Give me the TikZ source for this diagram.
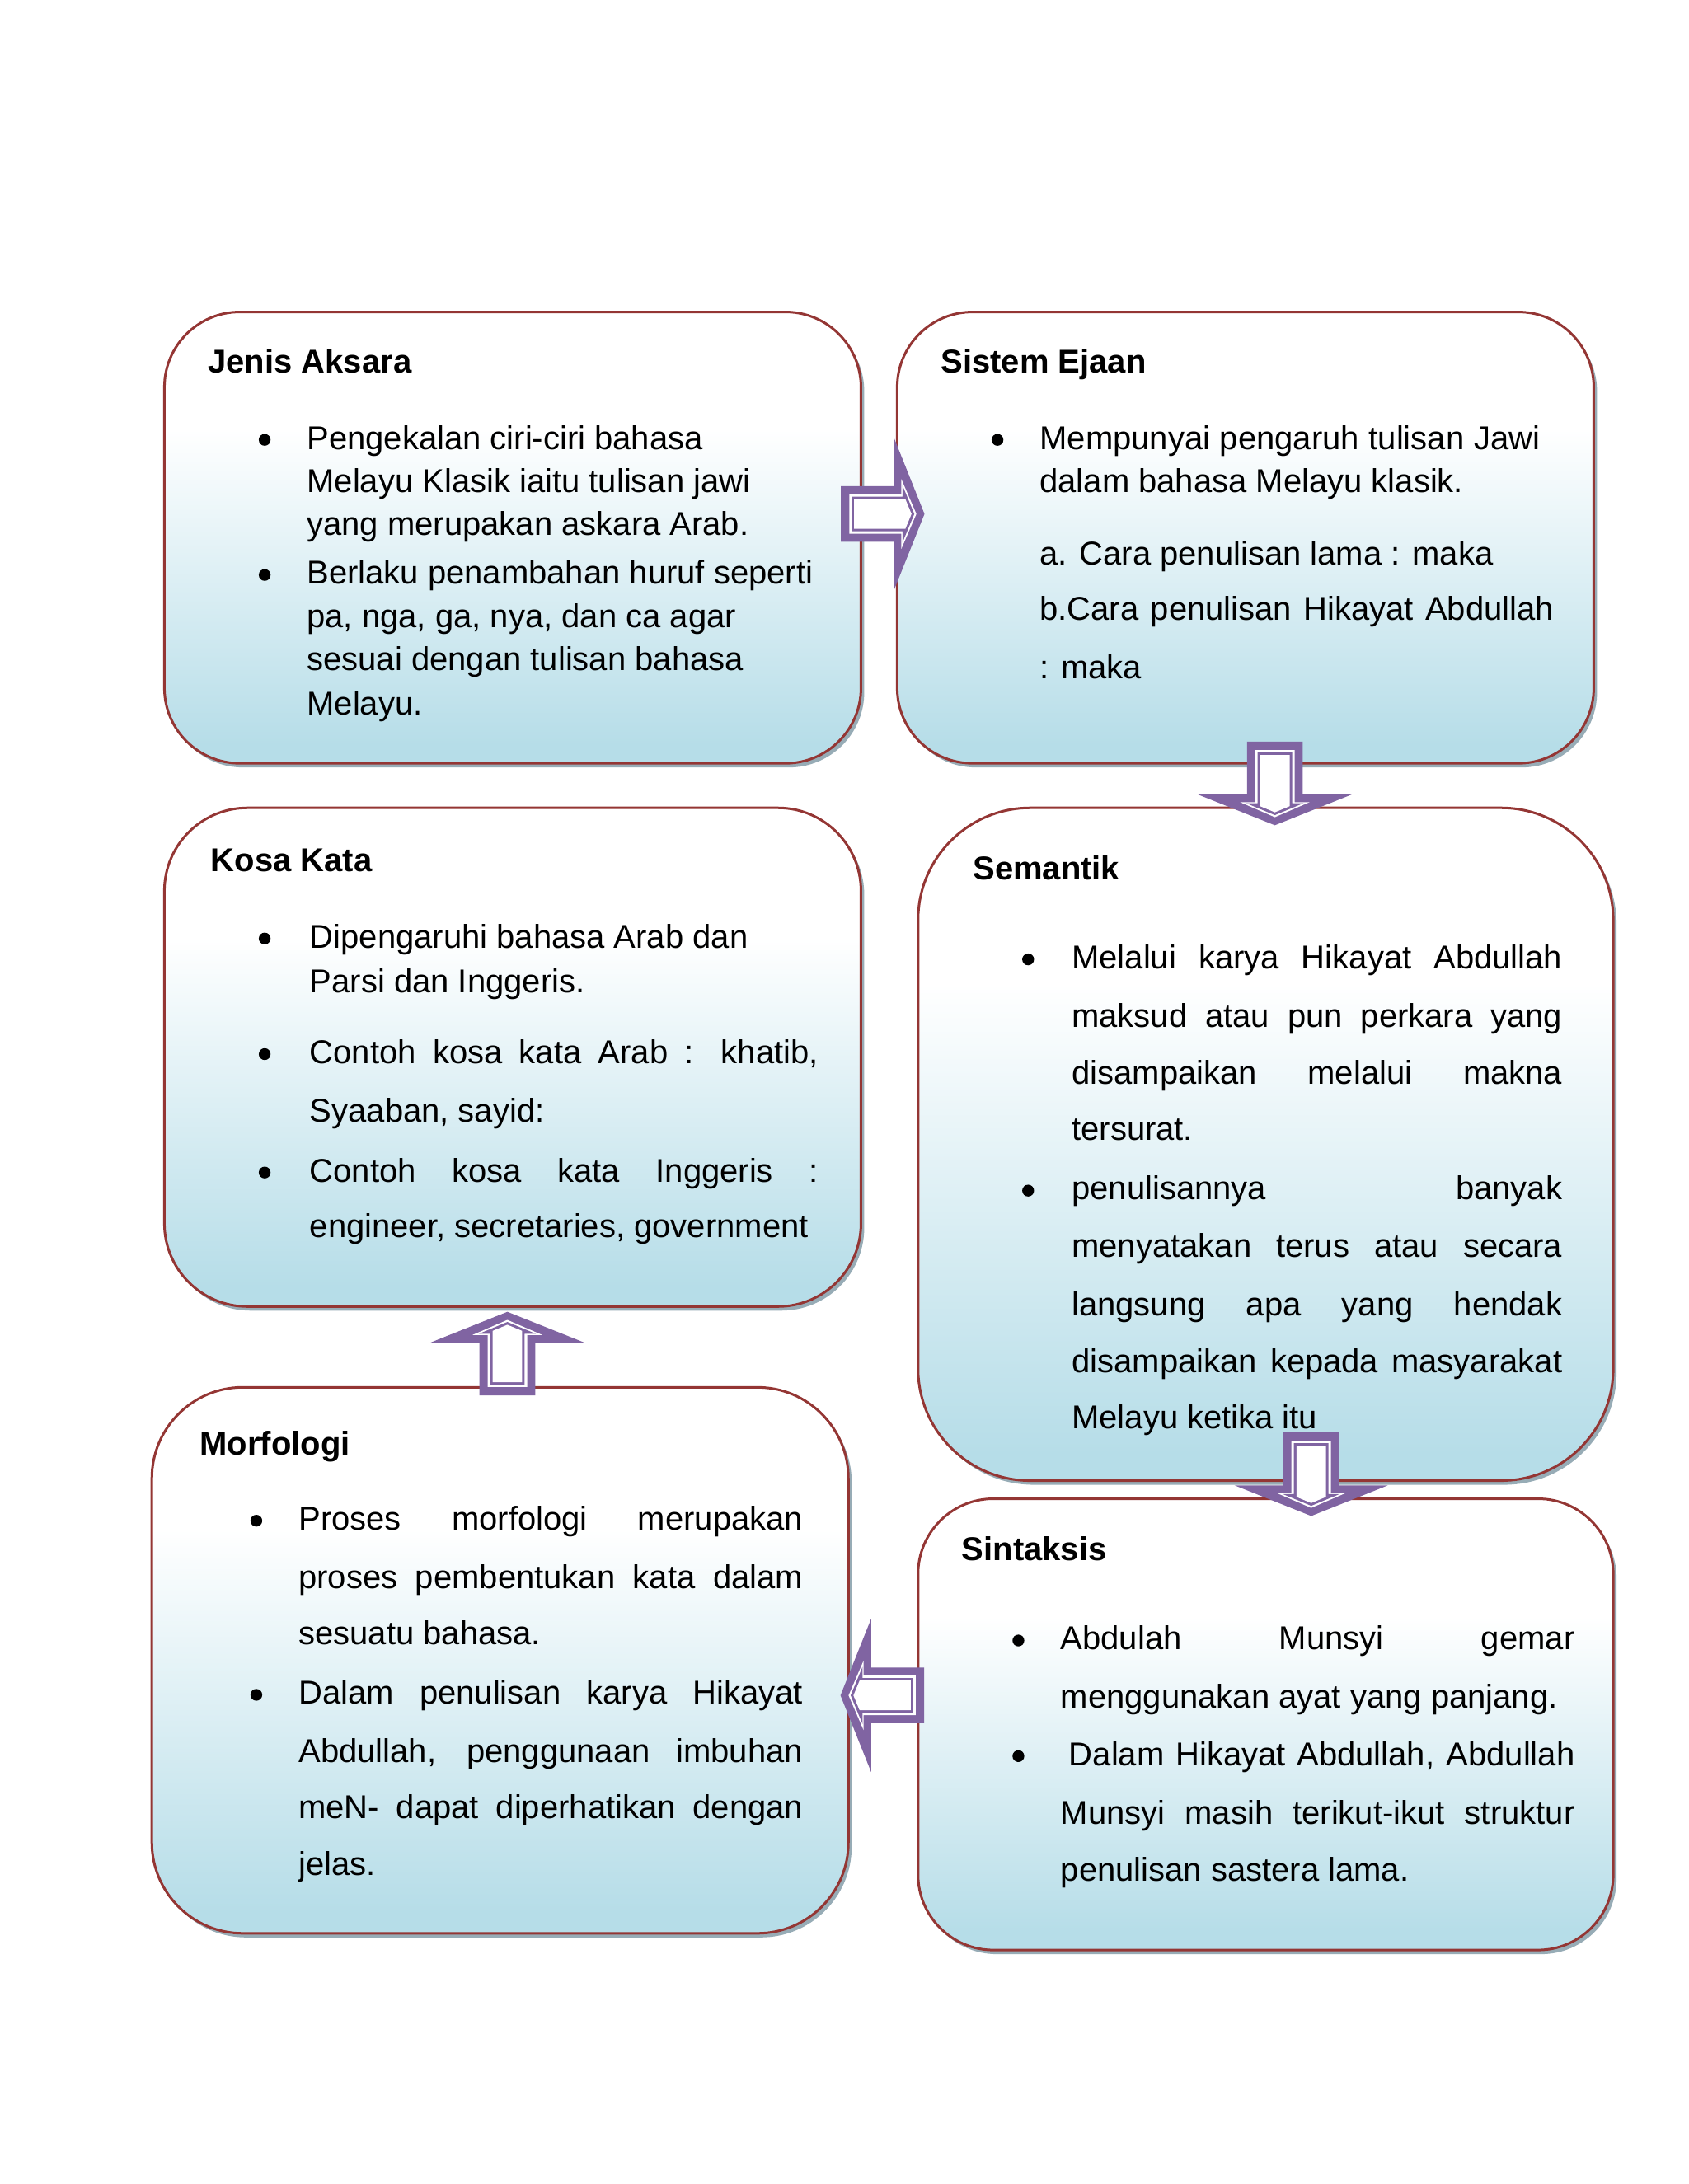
\documentclass[tikz,border=0pt]{standalone}
\usepackage{fontspec}
\setmainfont{Liberation Sans}
\usetikzlibrary{fit,shadows}
\definecolor{boxred}{HTML}{943634}
\definecolor{aqua}{HTML}{B6DDE8}
\definecolor{apurple}{HTML}{8064A2}
\definecolor{shadowc}{HTML}{97ACB6}
\pgfdeclareverticalshading{boxshade}{100bp}{color(0bp)=(aqua); color(27bp)=(aqua); color(62bp)=(white); color(100bp)=(white)}
\newlength\ux
\setlength\ux{0.50693pt}
\newcommand\J[2]{\makebox[#1\ux][s]{#2}}
\newcommand\blockarrow[3]{%
  \begin{scope}[shift={(#1,#2)}, rotate=#3]
    \fill[apurple] (0,-20) -- (38,-20) -- (38,-55) -- (60,0) -- (38,55) -- (38,20) -- (0,20) -- cycle;
    \fill[white] (6,-14.2) -- (43.4,-14.2) -- (43.4,-25) -- (54.2,0) -- (43.4,25) -- (43.4,14.2) -- (6,14.2) -- cycle;
    \fill[apurple] (7.8,-12.4) -- (44.2,-12.4) -- (44.2,-20.5) -- (52.7,0) -- (44.2,20.5) -- (44.2,12.4) -- (7.8,12.4) -- cycle;
    \fill[white] (9.5,-10.6) -- (46.3,-10.6) -- (50.7,0) -- (46.3,10.6) -- (9.5,10.6) -- cycle;
  \end{scope}}
\tikzset{
  box/.style={draw=boxred, line width=0.9pt, shade, shading=boxshade, inner sep=0pt,
    drop shadow={shadow xshift=1.2pt, shadow yshift=-1.5pt, fill=shadowc, opacity=1}},
  txt/.style={anchor=base west, inner sep=0pt},
  ttl/.style={anchor=base west, inner sep=0pt, font=\fontsize{12}{14}\selectfont\bfseries},
  bul/.style={circle, fill=black, inner sep=0pt, minimum size=4.3pt, yshift=3.4pt}
}
\begin{document}
\begin{tikzpicture}[x=0.50693pt, y=-0.50693pt, font=\fontsize{12}{14}\selectfont]
\useasboundingbox (0,0) rectangle (1212,1568);
\fill[white] (0,0) rectangle (1212,1568);

% boxes
\node[box, rounded corners=27.4pt, fit={(118,224) (618,548)}] (jenis) {};
\node[box, rounded corners=27.4pt, fit={(644,224) (1144,548)}] (ejaan) {};
\node[box, rounded corners=30.2pt, fit={(118,580) (618,938)}] (kosa) {};
\node[box, rounded corners=40.8pt, fit={(659,580) (1158,1063)}] (semantik) {};
\node[box, rounded corners=33.1pt, fit={(109,996) (609,1388)}] (morfologi) {};
\node[box, rounded corners=27.4pt, fit={(659,1076) (1158,1400)}] (sintaksis) {};

% arrows
\blockarrow{603.6}{369}{0}
\blockarrow{915.1}{532.5}{-90}
\blockarrow{364.2}{1001.8}{90}
\blockarrow{941.2}{1028.4}{-90}
\blockarrow{663.3}{1217.2}{180}

% Jenis Aksara
\node[ttl] (jt) at (149,267.5) {Jenis Aksara};
\node[bul] (jb1) at (190,322.5) {};
\node[txt] (j1) at (220,322.5) {Pengekalan ciri-ciri bahasa};
\node[txt] (j2) at (220,353.5) {Melayu Klasik iaitu tulisan jawi};
\node[txt] (j3) at (220,384.5) {yang merupakan askara Arab.};
\node[bul] (jb2) at (190,419.5) {};
\node[txt] (j4) at (220,419.5) {Berlaku penambahan huruf seperti};
\node[txt] (j5) at (220,450.5) {pa, nga, ga, nya, dan ca agar};
\node[txt] (j6) at (220,481.5) {sesuai dengan tulisan bahasa};
\node[txt] (j7) at (220,513.5) {Melayu.};

% Sistem Ejaan
\node[ttl] (et) at (675,267.5) {Sistem Ejaan};
\node[bul] (eb1) at (716,322.5) {};
\node[txt] (e1) at (746,322.5) {\J{359}{Mempunyai pengaruh tulisan Jawi}};
\node[txt] (e2) at (746,353.5) {dalam bahasa Melayu klasik.};
\node[txt] (e3) at (746,405.5) {a. Cara penulisan lama : maka};
\node[txt] (e4) at (746,445.5) {\J{369}{b.Cara penulisan Hikayat Abdullah}};
\node[txt] (e5) at (746,487.5) {: maka};

% Kosa Kata
\node[ttl] (kt) at (151,625.5) {Kosa Kata};
\node[bul] (kb1) at (190,680.5) {};
\node[txt] (k1) at (222,680.5) {Dipengaruhi bahasa Arab dan};
\node[txt] (k2) at (222,712.5) {Parsi dan Inggeris.};
\node[bul] (kb2) at (190,763.5) {};
\node[txt] (k3) at (222,763.5) {\J{365}{Contoh kosa kata Arab : khatib,}};
\node[txt] (k4) at (222,805.5) {Syaaban, sayid:};
\node[bul] (kb3) at (190,848.5) {};
\node[txt] (k5) at (222,848.5) {\J{365}{Contoh kosa kata Inggeris :}};
\node[txt] (k6) at (222,888.5) {engineer, secretaries, government};

% Semantik
\node[ttl] (st) at (698,631.5) {Semantik};
\node[bul] (sb1) at (738,695.5) {};
\node[txt] (s1) at (769,695.5) {\J{352}{Melalui karya Hikayat Abdullah}};
\node[txt] (s2) at (769,737.5) {\J{352}{maksud atau pun perkara yang}};
\node[txt] (s3) at (769,778.5) {\J{352}{disampaikan melalui makna}};
\node[txt] (s4) at (769,818.5) {tersurat.};
\node[bul] (sb2) at (738,861.5) {};
\node[txt] (s5) at (769,861.5) {\J{352}{penulisannya banyak}};
\node[txt] (s6) at (769,902.5) {\J{352}{menyatakan terus atau secara}};
\node[txt] (s7) at (769,944.5) {\J{352}{langsung apa yang hendak}};
\node[txt] (s8) at (769,985.5) {\J{352}{disampaikan kepada masyarakat}};
\node[txt] (s9) at (769,1025.5) {Melayu ketika itu};

% Morfologi
\node[ttl] (mt) at (143,1044.5) {Morfologi};
\node[bul] (mb1) at (184,1098.5) {};
\node[txt] (m1) at (214,1098.5) {\J{362}{Proses morfologi merupakan}};
\node[txt] (m2) at (214,1140.5) {\J{362}{proses pembentukan kata dalam}};
\node[txt] (m3) at (214,1180.5) {sesuatu bahasa.};
\node[bul] (mb2) at (184,1223.5) {};
\node[txt] (m4) at (214,1223.5) {\J{362}{Dalam penulisan karya Hikayat}};
\node[txt] (m5) at (214,1265.5) {\J{362}{Abdullah, penggunaan imbuhan}};
\node[txt] (m6) at (214,1305.5) {\J{362}{meN- dapat diperhatikan dengan}};
\node[txt] (m7) at (214,1346.5) {jelas.};

% Sintaksis
\node[ttl] (xt) at (690,1120.5) {Sintaksis};
\node[bul] (xb1) at (731,1184.5) {};
\node[txt] (x1) at (761,1184.5) {\J{369}{Abdulah Munsyi gemar}};
\node[txt] (x2) at (761,1226.5) {menggunakan ayat yang panjang.};
\node[bul] (xb2) at (731,1267.5) {};
\node[txt] (x3) at (767,1267.5) {\J{363}{Dalam Hikayat Abdullah, Abdullah}};
\node[txt] (x4) at (761,1309.5) {\J{369}{Munsyi masih terikut-ikut struktur}};
\node[txt] (x5) at (761,1350.5) {penulisan sastera lama.};
\end{tikzpicture}
\end{document}
